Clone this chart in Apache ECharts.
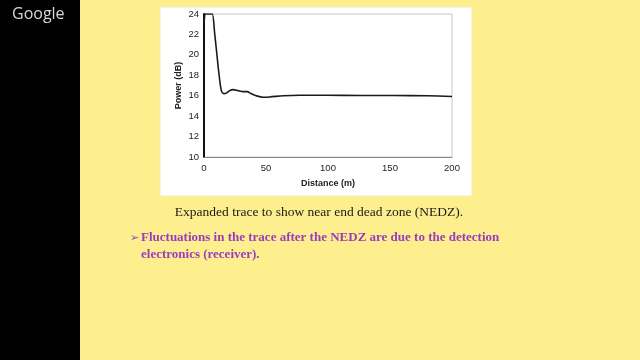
<!DOCTYPE html>
<html><head><meta charset="utf-8">
<script src="https://cdn.jsdelivr.net/npm/echarts@6/dist/echarts.min.js"></script>
<style>html,body{margin:0;padding:0;background:#fdef8e;}#c{width:640px;height:360px;}</style>
</head><body><div id="c"></div>
<script>
const distance = [0, 0.5, 1, 3, 5, 6.7, 8.6, 10, 12, 14, 16, 18, 20.7, 23.4, 27.5, 31.5, 34.8, 38, 42, 47.7, 53, 64, 77, 99, 126, 153, 180, 200];
const power    = [23.1, 23.8, 24, 24, 24, 24, 22.1, 20.5, 18.2, 16.5, 16.2, 16.25, 16.5, 16.6, 16.5, 16.4, 16.4, 16.2, 16.0, 15.85, 15.88, 16.0, 16.05, 16.05, 16.02, 16.02, 15.99, 15.93];
const xTicks = [0, 50, 100, 150, 200];
const yTicks = [10, 12, 14, 16, 18, 20, 22, 24];
const caption = "Expanded trace to show near end dead zone (NEDZ).";
const bullet1 = "Fluctuations in the trace after the NEDZ are due to the detection";
const bullet2 = "electronics (receiver).";

const chart = echarts.init(document.getElementById('c'));
chart.setOption({
  backgroundColor: '#fdef8e',
  animation: false,
  graphic: [
    {type:'rect', shape:{x:0,y:0,width:80,height:360}, style:{fill:'#000'}, z:-1},
    {type:'text', x:12, y:6, style:{text:'Google', fill:'#d8d8d8', font:'16px "Open Sans", sans-serif'}},
    {type:'rect', shape:{x:160,y:7,width:312,height:189}, style:{fill:'#ffffff', stroke:'#f4eeb8', lineWidth:1}, z:-1},
    {type:'text', x:319, y:212, style:{text:caption, fill:'#1a1a1a', font:'13.5px "Liberation Serif", serif', align:'center', verticalAlign:'middle'}},
    {type:'text', x:130, y:238, style:{text:'\u27A2', fill:'#9b3cc0', font:'bold 11px "DejaVu Sans", sans-serif', verticalAlign:'middle'}},
    {type:'text', x:141, y:238, style:{text:bullet1, fill:'#9b3cc0', font:'bold 13px "Liberation Serif", serif', verticalAlign:'middle'}},
    {type:'text', x:141, y:255, style:{text:bullet2, fill:'#9b3cc0', font:'bold 13px "Liberation Serif", serif', verticalAlign:'middle'}}
  ],
  grid: {left:204, right:188, top:14, bottom:203, show:true, borderColor:'#c8c8c8', borderWidth:1, backgroundColor:'transparent'},
  xAxis: {
    type:'value', min:xTicks[0], max:xTicks[xTicks.length-1], interval:50,
    name:'Distance (m)', nameLocation:'middle', nameGap:22,
    nameTextStyle:{fontFamily:'Liberation Sans', fontWeight:'bold', fontSize:9, color:'#222'},
    axisLine:{show:true, lineStyle:{color:'#888', width:1}},
    axisTick:{show:false},
    axisLabel:{fontFamily:'Liberation Sans', fontSize:9.5, color:'#222', margin:6},
    splitLine:{show:false}
  },
  yAxis: {
    type:'value', min:yTicks[0], max:yTicks[yTicks.length-1], interval:2,
    name:'Power (dB)', nameLocation:'middle', nameGap:21, nameRotate:90,
    nameTextStyle:{fontFamily:'Liberation Sans', fontWeight:'bold', fontSize:9, color:'#222'},
    axisLine:{show:true, lineStyle:{color:'#111', width:2}},
    axisTick:{show:false},
    axisLabel:{fontFamily:'Liberation Sans', fontSize:9.5, color:'#222', margin:5},
    splitLine:{show:false}
  },
  series: [{
    type:'line', data: distance.map((d,i)=>[d, power[i]]),
    smooth:0.3, showSymbol:false, clip:true,
    lineStyle:{color:'#1a1a1a', width:1.6}
  }]
});
</script></body></html>
